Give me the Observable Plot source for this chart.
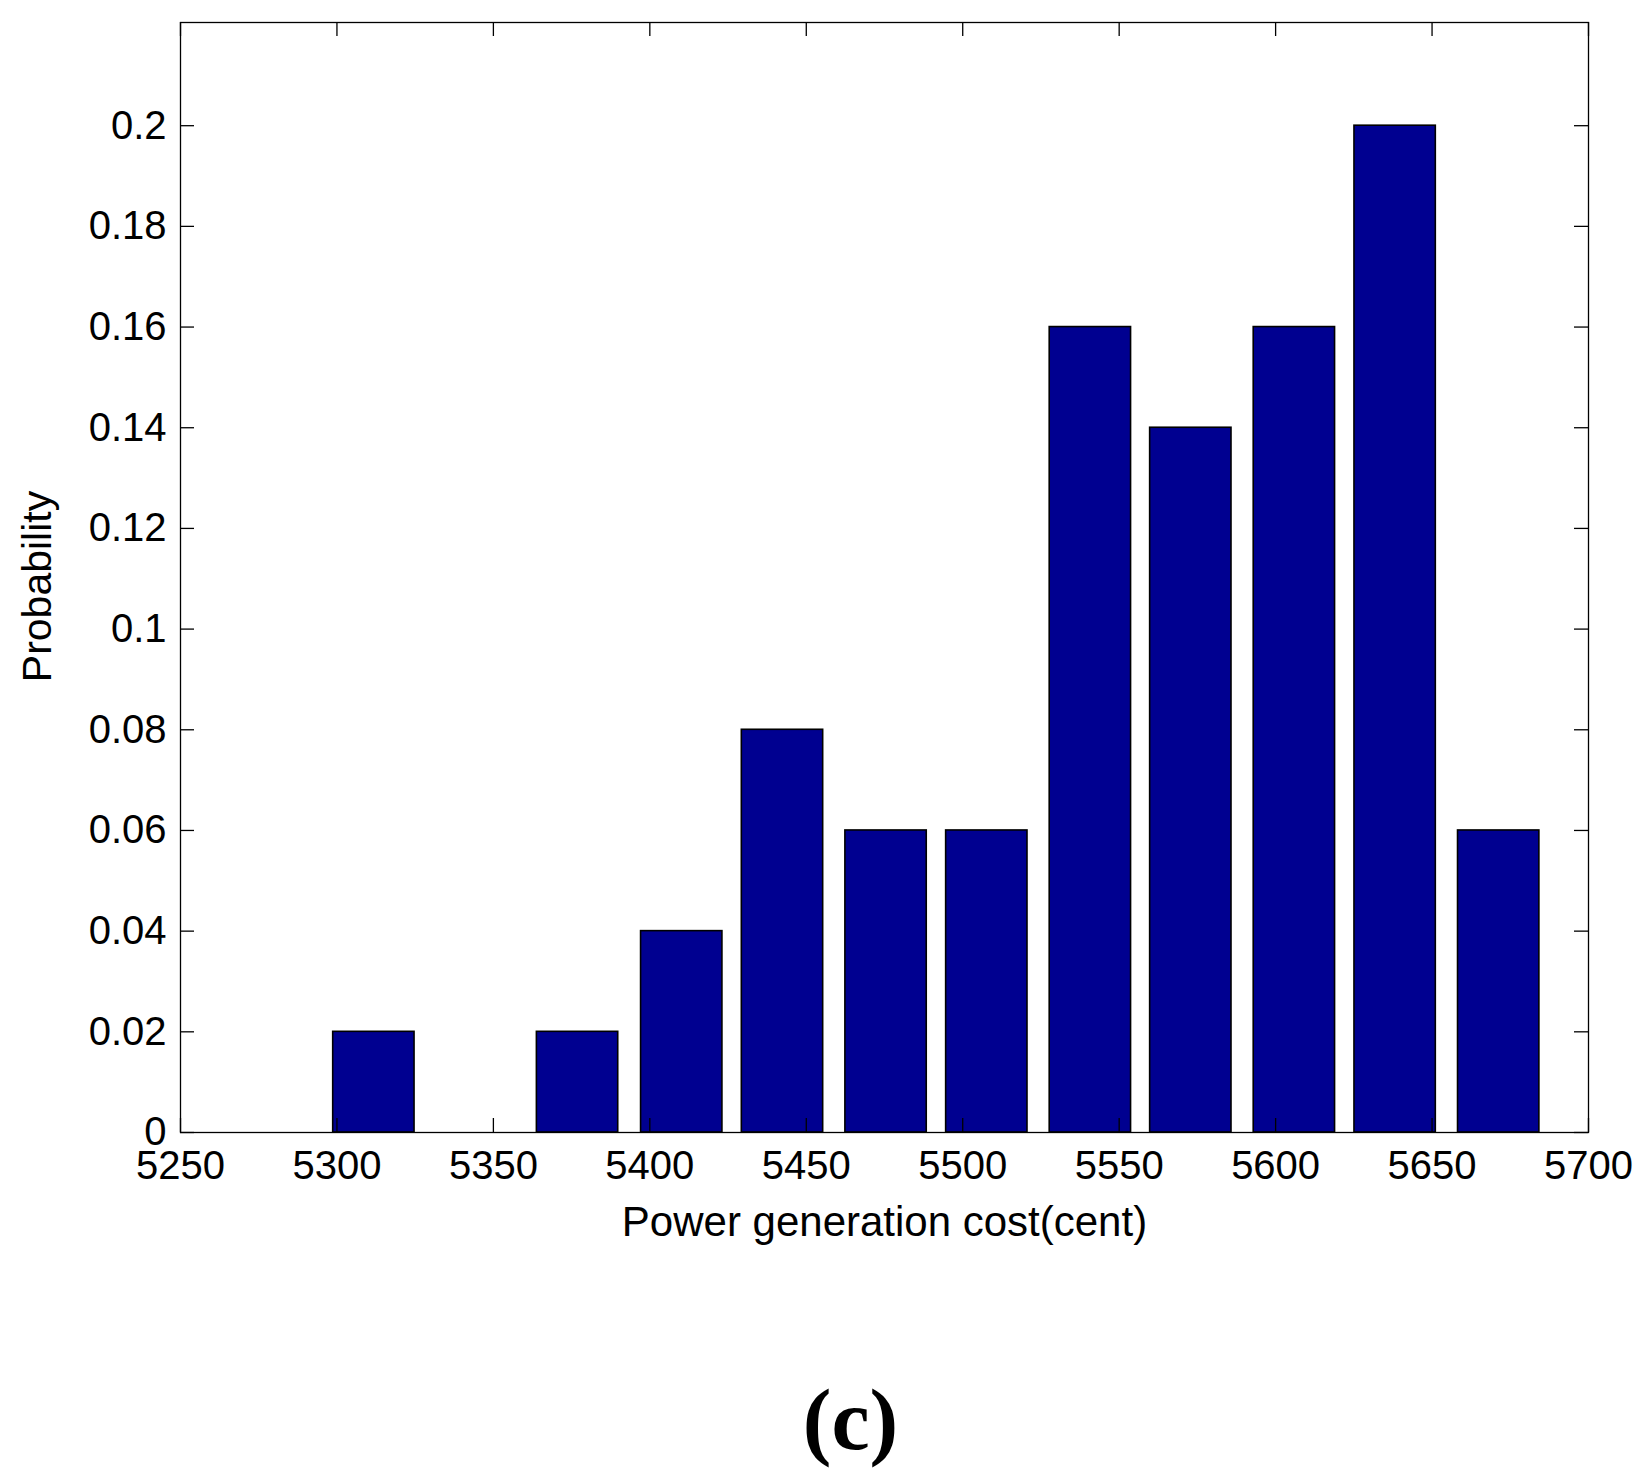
<!DOCTYPE html>
<html>
<head>
<meta charset="utf-8">
<script src="https://cdn.jsdelivr.net/npm/d3@7"></script>
<script src="https://cdn.jsdelivr.net/npm/@observablehq/plot@0.6"></script>
<style>
  html, body { margin: 0; padding: 0; background: white; }
</style>
</head>
<body>
<div id="chart"></div>
<script>
// Bin centres (cent) and probabilities
const binCenters = [5311.8, 5344.5, 5376.9, 5410.2, 5442.4, 5475.5, 5507.7, 5540.8, 5572.9, 5606.0, 5638.2, 5671.3];
const probabilities = [0.02, 0, 0.02, 0.04, 0.08, 0.06, 0.06, 0.16, 0.14, 0.16, 0.2, 0.06];
const barWidth = 26; // in cents (0.8 of bin width)

const xTicks = [5250, 5300, 5350, 5400, 5450, 5500, 5550, 5600, 5650, 5700];
const xTickLabels = ["5250", "5300", "5350", "5400", "5450", "5500", "5550", "5600", "5650", "5700"];
const yTicks = [0, 0.02, 0.04, 0.06, 0.08, 0.1, 0.12, 0.14, 0.16, 0.18, 0.2];
const yTickLabels = ["0", "0.02", "0.04", "0.06", "0.08", "0.1", "0.12", "0.14", "0.16", "0.18", "0.2"];

const xLabel = "Power generation cost(cent)";
const yLabel = "Probability";
const panelLabel = "(c)";

const bins = binCenters.map((c, i) => ({center: c, p: probabilities[i]}));

const W = 1648, H = 1484;
const mL = 180, mR = 60, mT = 22, mB = H - 1132;
const frameW = W - mL - mR, frameH = H - mT - mB;
const tickLen = 14;

const chart = Plot.plot({
  width: W,
  height: H,
  marginLeft: mL,
  marginRight: mR,
  marginTop: mT,
  marginBottom: mB,
  style: {fontFamily: "'Liberation Sans', Arial, Helvetica, sans-serif", fontSize: "40px", color: "black", background: "white"},
  x: {domain: [5250, 5700]},
  y: {domain: [0, 0.2205]},
  marks: [
    Plot.rectY(bins, {
      x1: d => d.center - barWidth / 2,
      x2: d => d.center + barWidth / 2,
      y1: 0,
      y2: "p",
      fill: "#000090",
      stroke: "black",
      strokeWidth: 1.6
    }),
    // inward ticks on all four sides
    Plot.tickX(xTicks, {x: d => d, stroke: "black", strokeWidth: 1.3, insetTop: frameH - tickLen}),
    Plot.tickX(xTicks, {x: d => d, stroke: "black", strokeWidth: 1.3, insetBottom: frameH - tickLen}),
    Plot.tickY(yTicks, {y: d => d, stroke: "black", strokeWidth: 1.3, insetRight: frameW - tickLen}),
    Plot.tickY(yTicks, {y: d => d, stroke: "black", strokeWidth: 1.3, insetLeft: frameW - tickLen}),
    Plot.frame({stroke: "black", strokeWidth: 1.3}),
    Plot.axisX({
      ticks: xTicks, tickSize: 0, tickPadding: 18, fontSize: 40,
      tickFormat: d => xTickLabels[xTicks.indexOf(d)], label: null
    }),
    Plot.axisY({
      ticks: yTicks, tickSize: 0, tickPadding: 14, fontSize: 40,
      tickFormat: d => yTickLabels[yTicks.indexOf(d)], label: null
    }),
    Plot.text([xLabel], {
      text: d => d, frameAnchor: "bottom", dy: 103, lineAnchor: "bottom",
      fontSize: 42, fill: "black"
    }),
    Plot.text([yLabel], {
      text: d => d, frameAnchor: "left", textAnchor: "middle", dx: -130, dy: 9, rotate: -90, lineAnchor: "bottom",
      fontSize: 41, fill: "black"
    }),
    Plot.text([panelLabel], {
      text: d => d, frameAnchor: "bottom", dx: -34, dy: 316, lineAnchor: "bottom",
      fontSize: 86, fontWeight: "bold", fontFamily: "'Liberation Serif', 'Times New Roman', serif", fill: "black"
    })
  ]
});

document.getElementById("chart").appendChild(chart);
</script>
</body>
</html>
